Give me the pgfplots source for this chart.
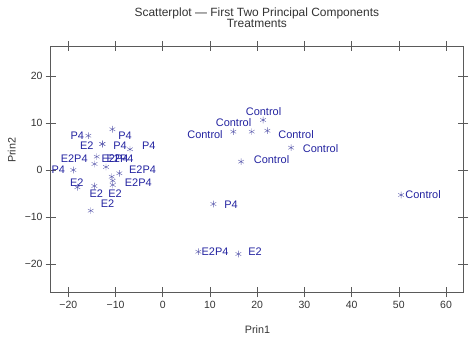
\documentclass[border=0pt]{standalone}
\usepackage{fontspec}
\setmainfont{Liberation Sans}
\usepackage{pgfplots}
\usepackage{pgfplotstable}
\pgfplotsset{compat=1.18}
\definecolor{labcol}{RGB}{35,35,160}
\definecolor{markcol}{RGB}{95,95,175}
\definecolor{axcol}{RGB}{90,90,90}

\pgfplotstableread{
x y lab dx dy
21.25 10.66 Control 0.5 8.5
14.95 8.18 Control -28.3 -2.8
18.85 8.18 Control -18.2 8.7
22.16 8.39 Control 28.7 -4.3
27.18 4.78 Control 29.5 -1.3
16.59 1.81 Control 30.5 2.2
50.48 -5.27 Control 22 0.5
10.72 -7.18 P4 17.7 -1
7.54 -17.31 E2P4 16.7 -0.3
16.01 -17.80 E2 16.7 2
-15.76 7.33 P4 -11.1 0.4
-10.68 8.69 P4 12.7 -6
-12.79 5.57 E2 -15.6 -1.5
-12.79 5.57 P4 17.7 -1.5
-6.93 4.44 P4 18.7 3.8
-13.98 2.87 E2P4 -22.5 -2.1
-14.45 1.32 E2P4 20.5 5.2
-12.01 0.68 E2P4 14 8.2
-18.94 0.04 P4 -15 0
-9.19 -0.66 E2P4 23.2 3.3
-10.59 -2.23 E2P4 25.6 -2.3
-10.59 -3.14 E2 2.3 -8.3
-18.09 -3.63 E2 -0.6 4.3
-14.49 -3.36 E2 2 -7.3
-15.25 -8.60 E2 16.8 7
}\scores

\begin{document}
\begin{tikzpicture}
\begin{axis}[
  scale only axis,
  width=412.3bp, height=245.5bp,
  xmin=-23.73, xmax=63.6,
  ymin=-25.87, ymax=26.27,
  clip=false,
  axis line style={axcol, line width=0.6pt},
  every tick/.style={axcol, line width=0.6pt},
  tick align=center,
  major tick length=10bp,
  xtick={-20,-10,0,10,20,30,40,50,60},
  xticklabels={−20,−10,0,10,20,30,40,50,60},
  ytick={-20,-10,0,10,20},
  yticklabels={−20,−10,0,10,20},
  xtick pos=both, ytick pos=both,
  ticklabel style={font=\fontsize{10.5}{10.5}\selectfont, text=black!80},
  xticklabel style={anchor=center, inner sep=0pt, yshift=-8bp},
  yticklabel style={anchor=east, inner sep=0pt, xshift=-3bp},
  xlabel={Prin1}, ylabel={Prin2},
  label style={font=\fontsize{10.8}{10.8}\selectfont, text=black!80},
  xlabel style={at={(axis description cs:0.5016,-0.1527)}, anchor=center},
  ylabel style={at={(axis description cs:-0.0946,0.577)}, anchor=center},
  title={Scatterplot — First Two Principal Components\\Treatments},
  title style={align=center, font=\fontsize{12}{11}\selectfont, text=black!80,
    at={(axis description cs:0.5,1)}, anchor=south, inner sep=0pt, yshift=12.5bp},
]
\addplot[only marks, mark=asterisk, mark size=3.3, color=markcol,
  point meta=explicit symbolic,
  visualization depends on={\thisrow{dx}\as\dxv},
  visualization depends on={\thisrow{dy}\as\dyv},
  nodes near coords,
  nodes near coords style={anchor=center, inner sep=0pt, xshift=\dxv bp, yshift=\dyv bp,
    text=labcol, font=\fontsize{11}{11}\selectfont}]
  table[x=x, y=y, meta=lab]{\scores};
\addplot[only marks, mark=asterisk, mark size=3.3, color=markcol]
  coordinates {(-10.80,-1.38)};
\end{axis}
\pgfresetboundingbox
\useasboundingbox (-50.7bp,-46bp) rectangle (423.3bp,292bp);
\end{tikzpicture}
\end{document}
